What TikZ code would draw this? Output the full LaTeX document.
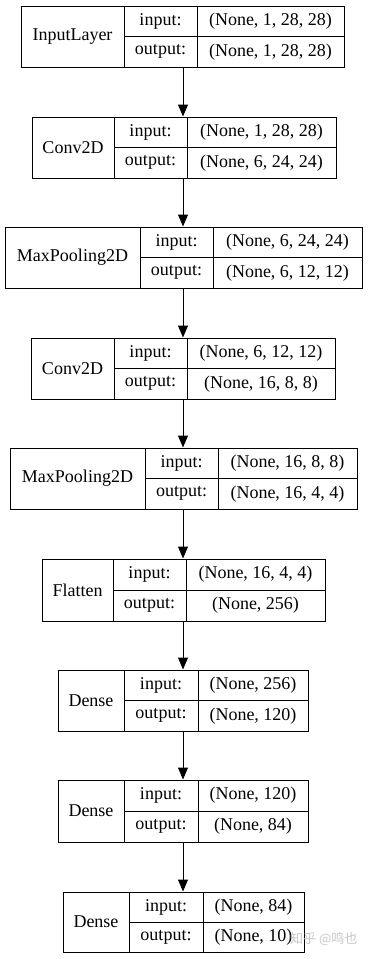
\documentclass[tikz,border=0pt]{standalone}
\usepackage{fontspec}
\setmainfont{Liberation Serif}
\newfontfamily\cjkfont{Noto Sans CJK SC}
\usetikzlibrary{fit,arrows.meta}
\tikzset{
  recbox/.style={draw, line width=1pt, inner sep=0pt},
  recline/.style={line width=1pt},
  rectext/.style={inner sep=0pt, font=\fontsize{18}{20}\selectfont},
  flow/.style={line width=1pt, -{Triangle[length=12pt,width=10pt]}},
  wmark/.style={inner sep=0pt, text=black!22, font=\cjkfont\fontsize{13}{15}\selectfont}
}
\newcommand\rec[9]{\def\rN{#1}\def\rT{#2}\def\rB{#3}\def\rL{#4}\def\rDa{#5}\def\rDb{#6}\def\rR{#7}\def\rLab{#8}\def\rIn{#9}\recB}
\newcommand\recB[1]{%
  \pgfmathsetmacro\rM{(\rT+\rB)/2}%
  \node[recbox, fit={(\rL,\rT) (\rR,\rB)}] (\rN) {};
  \draw[recline] (\rDa,\rT) -- (\rDa,\rB);
  \draw[recline] (\rDb,\rT) -- (\rDb,\rB);
  \draw[recline] (\rDa,\rM) -- (\rR,\rM);
  \node[rectext] (\rN-lab) at ({(\rL+\rDa)/2},\rM) {\rLab};
  \node[rectext] (\rN-ik) at ({(\rDa+\rDb)/2},{(\rT+\rM)/2}) {input:};
  \node[rectext] (\rN-ok) at ({(\rDa+\rDb)/2},{(\rM+\rB)/2}) {output:};
  \node[rectext] (\rN-iv) at ({(\rDb+\rR)/2},{(\rT+\rM)/2}) {\rIn};
  \node[rectext] (\rN-ov) at ({(\rDb+\rR)/2},{(\rM+\rB)/2}) {#1};
}
\begin{document}
\begin{tikzpicture}[x=1pt,y=-1pt]
\fill[white] (0,0) rectangle (367,959);
\useasboundingbox (0,0) rectangle (367,959);
\coordinate (ax) at (183,0);
\rec{L1}{6}{67}{21}{124}{197}{344}{InputLayer}{(None, 1, 28, 28)}{(None, 1, 28, 28)}
\rec{L2}{117}{178}{32}{114}{187}{336}{Conv2D}{(None, 1, 28, 28)}{(None, 6, 24, 24)}
\rec{L3}{227}{288}{5}{140}{213}{362}{MaxPooling2D}{(None, 6, 24, 24)}{(None, 6, 12, 12)}
\rec{L4}{338}{399}{31}{114}{187}{335}{Conv2D}{(None, 6, 12, 12)}{(None, 16, 8, 8)}
\rec{L5}{448}{509}{10}{145}{218}{357}{MaxPooling2D}{(None, 16, 8, 8)}{(None, 16, 4, 4)}
\rec{L6}{559}{621}{42}{113}{186}{325}{Flatten}{(None, 16, 4, 4)}{(None, 256)}
\rec{L7}{670}{731}{58}{124}{198}{308}{Dense}{(None, 256)}{(None, 120)}
\rec{L8}{780}{842}{58}{124}{198}{308}{Dense}{(None, 120)}{(None, 84)}
\rec{L9}{892}{952}{63}{129}{203}{304}{Dense}{(None, 84)}{(None, 10)}
\foreach \a/\b in {L1/L2,L2/L3,L3/L4,L4/L5,L5/L6,L6/L7,L7/L8,L8/L9}
  \draw[flow] (\a.south -| ax) -- (\b.north -| ax);
\node[wmark, anchor=west] (wm) at (290,939) {知乎 @鸣也};
\end{tikzpicture}
\end{document}
